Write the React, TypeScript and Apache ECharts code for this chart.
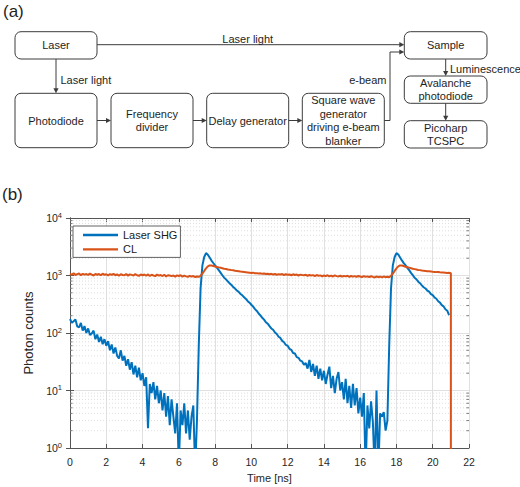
import React, { useEffect, useRef } from "react";
import * as echarts from "echarts";

// Histogram bin width of the TCSPC traces (ns)
const T_STEP = 0.1;

// Laser SHG photon counts, one value per bin starting at t = 0 ns
const shgCounts = [
  175, 150, 160, 172, 130, 125, 150, 110, 132, 100,
  120, 92, 98, 110, 78, 94, 70, 86, 64, 78,
  60, 72, 50, 63, 44, 56, 40, 36, 50, 33,
  40, 27, 35, 23, 31, 19, 27, 17, 25, 15,
  20, 12, 17, 2.2, 13, 9, 14, 7, 12, 6,
  10, 4.5, 9, 3.5, 8, 2.5, 7, 3.5, 1.8, 6,
  0.5, 4.5, 2.5, 6, 1.8, 4.5, 1.4, 3.5, 5.5, 0.4,
  3, 60, 600, 1500, 2100, 2450, 2300, 2050, 1820, 1650,
  1500, 1370, 1240, 1120, 1010, 920, 855, 790, 730, 685,
  630, 592, 548, 520, 478, 452, 418, 392, 358, 337,
  310, 287, 260, 242, 218, 202, 184, 171, 154, 145,
  132, 120, 114, 102, 96, 86, 82, 73, 69, 62,
  60, 53, 51, 45, 44, 38, 37, 33, 32, 28,
  30, 24, 34, 21, 29, 18, 27, 16, 24, 15,
  22, 13, 19, 26, 11, 18, 9, 16, 21, 10,
  14, 7, 16, 6, 12, 5, 13, 5.5, 11, 4,
  7.5, 3.5, 9, 0.4, 5.5, 2.2, 6.5, 2.8, 0.4, 10,
  0.4, 4, 3.5, 4.2, 2, 3, 60, 600, 1500, 2100,
  2450, 2320, 2060, 1830, 1640, 1510, 1360, 1240, 1110, 1015,
  915, 860, 780, 735, 675, 625, 595, 545, 522, 475,
  455, 415, 394, 356, 338, 305, 290, 258, 244, 205,
];

// Cathodoluminescence photon counts, one value per bin starting at t = 0 ns
const clCounts = [
  1060, 1030, 1095, 1020, 1055, 1085, 1010, 1070, 1035, 1060,
  1025, 1080, 1035, 1000, 1065, 1030, 1060, 1010, 1075, 1025,
  1050, 1000, 1060, 1025, 1070, 1010, 1045, 990, 1055, 1020,
  1015, 1060, 995, 1045, 1025, 1000, 1055, 1010, 985, 1045,
  1005, 1040, 990, 1045, 980, 1030, 1000, 975, 1035, 995,
  1020, 980, 1030, 965, 1010, 1000, 975, 1000, 955, 1005,
  980, 1010, 955, 995, 965, 945, 985, 955, 980, 940,
  960, 950, 990, 1080, 1200, 1330, 1440, 1500, 1490, 1460,
  1430, 1410, 1385, 1360, 1335, 1310, 1300, 1270, 1260, 1240,
  1230, 1210, 1200, 1190, 1170, 1160, 1150, 1140, 1130, 1120,
  1110, 1120, 1090, 1100, 1080, 1090, 1070, 1085, 1060, 1075,
  1050, 1070, 1040, 1060, 1030, 1055, 1040, 1060, 1020, 1050,
  1030, 1045, 1010, 1050, 1020, 1040, 1000, 1035, 1020, 1010,
  1030, 990, 1020, 1000, 1015, 980, 1020, 990, 1005, 970,
  1000, 975, 1010, 965, 995, 960, 1005, 975, 965, 990,
  955, 985, 965, 990, 945, 980, 955, 975, 945, 980,
  960, 935, 975, 945, 965, 935, 970, 945, 925, 960,
  935, 955, 925, 960, 935, 950, 930, 990, 1080, 1200,
  1330, 1440, 1500, 1490, 1460, 1420, 1395, 1370, 1340, 1310,
  1290, 1270, 1250, 1240, 1220, 1210, 1200, 1190, 1180, 1170,
  1160, 1155, 1145, 1150, 1135, 1130, 1125, 1120, 1110, 1115,
  1100,
];

// Acquisition window ends here; the CL trace falls to zero counts
const clCutoff: [number, number] = [21.0, 0.01];

const seriesNames = ["Laser SHG", "CL"];
const seriesColors = ["#0072BD", "#D95319"];

// Axis ranges
const X_MIN = 0;
const X_MAX = 22;
const X_TICK = 2;
const Y_MIN = 1;
const Y_MAX = 10000;
const minorMultipliers = [2, 3, 4, 5, 6, 7, 8, 9];
const decades = [1, 10, 100, 1000];

const FONT = "'Liberation Sans', Arial, Helvetica, sans-serif";
const AXIS_COLOR = "#555";
const TEXT_COLOR = "#262626";
const GRID_COLOR = "#e0e0e0";

const toPairs = (vals: number[]) =>
  vals.map((v, i) => [Number((i * T_STEP).toFixed(2)), v]);

// ---------- block diagram (panel a) ----------
const STROKE = "#3c3c3c";

function box(x: number, y: number, w: number, h: number, label: string) {
  return [
    {
      type: "rect",
      shape: { x, y, width: w, height: h, r: 6 },
      style: { fill: "#fff", stroke: STROKE, lineWidth: 1 },
    },
    {
      type: "text",
      x: x + w / 2,
      y: y + h / 2,
      style: {
        text: label,
        fontSize: 11,
        fontFamily: FONT,
        fill: "#1e1e1e",
        align: "center",
        verticalAlign: "middle",
        lineHeight: 13.5,
      },
    },
  ];
}

function seg(x1: number, y1: number, x2: number, y2: number) {
  return {
    type: "line",
    shape: { x1, y1, x2, y2 },
    style: { stroke: STROKE, lineWidth: 1 },
  };
}

function headRight(x: number, y: number) {
  return {
    type: "polygon",
    shape: { points: [[x, y], [x - 5, y - 2.6], [x - 5, y + 2.6]] },
    style: { fill: STROKE },
  };
}

function headDown(x: number, y: number) {
  return {
    type: "polygon",
    shape: { points: [[x, y], [x - 2.6, y - 5], [x + 2.6, y - 5]] },
    style: { fill: STROKE },
  };
}

function label(x: number, y: number, text: string, align = "center", size = 11) {
  return {
    type: "text",
    x,
    y,
    style: {
      text,
      fontSize: size,
      fontFamily: FONT,
      fill: "#1e1e1e",
      align,
      verticalAlign: "middle",
    },
  };
}

function buildDiagram() {
  const els: any[] = [];
  els.push(label(3, 11, "(a)", "left", 17));
  els.push(label(2, 194, "(b)", "left", 17));

  els.push(...box(15, 31.7, 82, 27.3, "Laser"));
  els.push(...box(404.3, 31.7, 82.7, 27.3, "Sample"));
  els.push(...box(15, 93.3, 82, 54.4, "Photodiode"));
  els.push(...box(111, 93.3, 82, 54.4, "Frequency\ndivider"));
  els.push(...box(206.7, 93.3, 82, 54.4, "Delay generator"));
  els.push(...box(302.3, 93.3, 82, 54.4, "Square wave\ngenerator\ndriving e-beam\nblanker"));
  els.push(...box(404.3, 76, 82.7, 27.3, "Avalanche\nphotodiode"));
  els.push(...box(404.3, 120.7, 82.7, 27.3, "Picoharp\nTCSPC"));

  // Laser -> Sample
  els.push(seg(97, 44.7, 400, 44.7), headRight(404.3, 44.7));
  els.push(label(247.7, 38.5, "Laser light"));
  // Laser -> Photodiode
  els.push(seg(56, 59, 56, 89), headDown(56, 93.3));
  els.push(label(60.5, 80, "Laser light", "left"));
  // chain along the bottom row
  els.push(seg(97, 120.5, 107, 120.5), headRight(111, 120.5));
  els.push(seg(193, 120.5, 203, 120.5), headRight(206.7, 120.5));
  els.push(seg(288.7, 120.5, 298.5, 120.5), headRight(302.3, 120.5));
  // blanker -> Sample (e-beam)
  els.push(
    {
      type: "polyline",
      shape: { points: [[384.3, 120.5], [390, 120.5], [390, 52], [400, 52]] },
      style: { stroke: STROKE, lineWidth: 1, fill: "none" },
    },
    headRight(404.3, 52)
  );
  els.push(label(386.5, 80, "e-beam", "right"));
  // Sample -> APD -> Picoharp
  els.push(seg(445.7, 59, 445.7, 72), headDown(445.7, 76));
  els.push(label(450, 69.3, "Luminescence", "left"));
  els.push(seg(445.7, 103.3, 445.7, 116.7), headDown(445.7, 120.7));
  return els;
}

export default function App() {
  const ref = useRef<HTMLDivElement>(null);

  useEffect(() => {
    document.body.style.margin = "0";
    if (!ref.current) return;
    const chart = echarts.init(ref.current, undefined, { renderer: "svg" });

    const minorValues: number[][] = [];
    decades.forEach((d) => minorMultipliers.forEach((m) => minorValues.push([X_MIN, d * m])));

    const axisLine = { show: true, lineStyle: { color: AXIS_COLOR, width: 1 } };
    const axisTick = { show: true, inside: true, length: 4, lineStyle: { color: AXIS_COLOR, width: 1 } };

    const option: any = {
      animation: false,
      backgroundColor: "#fff",
      textStyle: { fontFamily: FONT },
      graphic: { elements: buildDiagram() },
      grid: { left: 70, right: 51, top: 218, bottom: 39 },
      legend: {
        data: seriesNames,
        left: 73,
        top: 226,
        orient: "vertical",
        icon: "rect",
        itemWidth: 35,
        itemHeight: 2.4,
        itemGap: 2.4,
        padding: [3, 3, 2, 10],
        borderColor: "#3a3a3a",
        borderWidth: 0.8,
        borderRadius: 0,
        backgroundColor: "#fff",
        textStyle: { fontSize: 11, lineHeight: 12, color: "#1a1a1a", fontFamily: FONT },
        z: 10,
      },
      xAxis: [
        {
          type: "value",
          min: X_MIN,
          max: X_MAX,
          interval: X_TICK,
          position: "bottom",
          axisLine,
          axisTick,
          axisLabel: { fontSize: 10.5, color: TEXT_COLOR, margin: 8, fontFamily: FONT },
          splitLine: { show: true, lineStyle: { color: GRID_COLOR, width: 1 } },
          name: "Time [ns]",
          nameLocation: "middle",
          nameGap: 24,
          nameTextStyle: { fontSize: 11, color: TEXT_COLOR, fontFamily: FONT },
        },
        {
          type: "value",
          min: X_MIN,
          max: X_MAX,
          interval: X_TICK,
          position: "top",
          axisLine,
          axisTick,
          axisLabel: { show: false },
          splitLine: { show: false },
        },
      ],
      yAxis: [
        {
          type: "log",
          logBase: 10,
          min: Y_MIN,
          max: Y_MAX,
          position: "left",
          axisLine,
          axisTick,
          axisLabel: {
            margin: 8,
            formatter: (v: number) => `{b|10}{s|${Math.round(Math.log10(v))}}`,
            rich: {
              b: { fontSize: 10.5, lineHeight: 14, color: TEXT_COLOR, fontFamily: FONT },
              s: { fontSize: 7.5, lineHeight: 8, verticalAlign: "top", color: TEXT_COLOR, fontFamily: FONT },
            },
          },
          splitLine: { show: true, lineStyle: { color: GRID_COLOR, width: 1 } },
          name: "Photon counts",
          nameLocation: "middle",
          nameGap: 30,
          nameTextStyle: { fontSize: 13, color: TEXT_COLOR, fontFamily: FONT },
        },
        {
          type: "log",
          logBase: 10,
          min: Y_MIN,
          max: Y_MAX,
          position: "right",
          axisLine,
          axisTick,
          axisLabel: { show: false },
          splitLine: { show: false },
        },
      ],
      series: [
        {
          // minor log grid (2..9 per decade) with minor ticks on both sides
          type: "custom",
          coordinateSystem: "cartesian2d",
          xAxisIndex: 0,
          yAxisIndex: 0,
          silent: true,
          z: 1,
          data: minorValues,
          renderItem: (_params: any, api: any) => {
            const v = api.value(1);
            const p0 = api.coord([X_MIN, v]);
            const p1 = api.coord([X_MAX, v]);
            return {
              type: "group",
              children: [
                {
                  type: "line",
                  shape: { x1: p0[0], y1: p0[1], x2: p1[0], y2: p1[1] },
                  style: { stroke: "#d6d6d6", lineWidth: 0.8, lineDash: [1, 2] },
                },
                {
                  type: "line",
                  shape: { x1: p0[0], y1: p0[1], x2: p0[0] + 2.5, y2: p0[1] },
                  style: { stroke: AXIS_COLOR, lineWidth: 0.8 },
                },
                {
                  type: "line",
                  shape: { x1: p1[0] - 2.5, y1: p1[1], x2: p1[0], y2: p1[1] },
                  style: { stroke: AXIS_COLOR, lineWidth: 0.8 },
                },
              ],
            };
          },
        },
        {
          name: seriesNames[0],
          type: "line",
          data: toPairs(shgCounts),
          showSymbol: false,
          symbol: "none",
          clip: true,
          z: 3,
          color: seriesColors[0],
          lineStyle: { color: seriesColors[0], width: 2 },
        },
        {
          name: seriesNames[1],
          type: "line",
          data: [...toPairs(clCounts), clCutoff],
          showSymbol: false,
          symbol: "none",
          clip: true,
          z: 4,
          color: seriesColors[1],
          lineStyle: { color: seriesColors[1], width: 2 },
        },
      ],
    };

    chart.setOption(option);
    return () => chart.dispose();
  }, []);

  return <div ref={ref} style={{ width: 520, height: 487 }} />;
}
